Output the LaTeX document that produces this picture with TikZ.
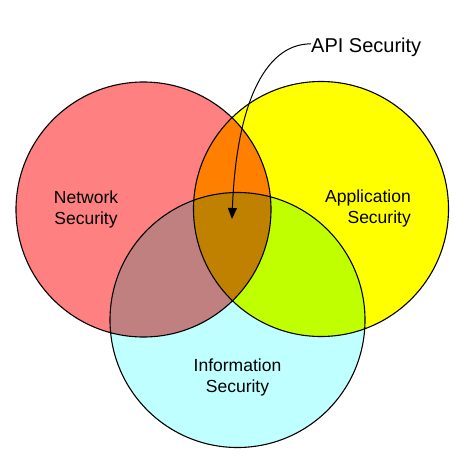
\documentclass[tikz,border=0pt]{standalone}
\usepackage{fontspec}
\setmainfont{Liberation Sans}
\usepackage{xcolor}
\usepackage{tikz}
\usetikzlibrary{arrows.meta}

\definecolor{netred}{HTML}{FF8080}
\definecolor{appyellow}{HTML}{FFFF00}
\definecolor{infcyan}{HTML}{C0FFFF}
\definecolor{netapp}{HTML}{FF8000}
\definecolor{netinf}{HTML}{C08080}
\definecolor{appinf}{HTML}{C0FF00}
\definecolor{allthree}{HTML}{C08000}

\begin{document}
\begin{tikzpicture}[x=1pt,y=-1pt,
  lbl/.style={inner sep=0pt,font=\fontsize{17.5}{21}\selectfont}]
\useasboundingbox (0,0) rectangle (474,460);
\def\rad{127.5pt}
\coordinate (net) at (143.5,209.5);
\coordinate (app) at (321,209);
\coordinate (inf) at (237.5,320);
\coordinate (core) at (232,219);
% plain circles
\fill [netred] (net) circle (\rad);
\fill [appyellow] (app) circle (\rad);
\fill [infcyan] (inf) circle (\rad);
% overlaps
\begin{scope} \clip (net) circle (\rad); \fill [netapp] (app) circle (\rad); \end{scope}
\begin{scope} \clip (net) circle (\rad); \fill [netinf] (inf) circle (\rad); \end{scope}
\begin{scope} \clip (app) circle (\rad); \fill [appinf] (inf) circle (\rad); \end{scope}
\begin{scope} \clip (net) circle (\rad); \clip (app) circle (\rad);
  \fill [allthree] (inf) circle (\rad); \end{scope}
\draw [line width=1.1pt] (net) circle (\rad) (app) circle (\rad) (inf) circle (\rad);
% labels
\node [lbl,align=center] (netlbl) at (86,209) {Network\\Security};
\node [lbl,align=right,anchor=east] (applbl) at (411,208) {Application\\Security};
\node [lbl,align=center] (inflbl) at (237.5,377) {Information\\Security};
\node [inner sep=0pt,anchor=base west,font=\fontsize{20}{24}\selectfont] (api) at (311,53) {API Security};
\draw [line width=1pt,-{Triangle[length=11pt,width=9pt]}]
   ([yshift=4pt]api.west) .. controls +(-49,0) and +(4,-108) .. (core);
\end{tikzpicture}
\end{document}
